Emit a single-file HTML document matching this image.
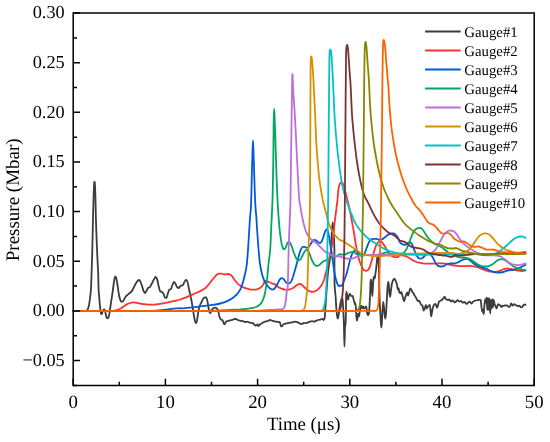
<!DOCTYPE html>
<html lang="en"><head><meta charset="utf-8"><title>Pressure vs Time</title>
<style>html,body{margin:0;padding:0;background:#fff;overflow:hidden}svg{display:block}text{text-rendering:geometricPrecision}</style>
</head><body>
<svg width="550" height="442" viewBox="0 0 550 442">
<rect x="0" y="0" width="550" height="442" fill="#fff"/>
<g fill="none" stroke-width="1.8" stroke-linejoin="round" stroke-linecap="round">
<path d="M73.3 310.9C77.4 310.9 81.4 310.9 85.5 310.9C85.9 310.9 86.4 310.7 86.8 310.5C87.3 310.3 87.7 309.3 88.2 308.2C88.5 307.5 88.8 306 89.1 304.5C89.3 303.3 89.6 301.7 89.8 300C90 298.4 90.2 296.5 90.5 294.5C90.6 293.1 90.8 292.1 90.9 290C91.1 287.2 91.3 280.3 91.5 275C91.7 269.7 91.9 264.8 92.1 258C92.4 247.8 92.7 230 93 218C93.2 210 93.4 201.9 93.6 196C93.7 192.1 93.9 188.3 94 186C94.1 184.6 94.2 183.1 94.2 182.6C94.3 182.1 94.4 181.6 94.5 181.6C94.6 181.6 94.7 182.1 94.8 182.6C94.8 183.1 94.9 184.6 95 186C95.1 188.3 95.3 191.8 95.4 196C95.6 201.3 95.7 212.2 95.9 218C96.4 235.3 96.9 246.6 97.4 258C97.7 264.1 97.9 266.8 98.2 274.2C98.3 277.9 98.5 287.7 98.6 290C98.8 292.9 98.9 293.5 99.1 295.5C99.2 297.1 99.4 299.3 99.5 300.9C99.7 302.9 99.8 304.7 100 306.4C100.2 308 100.3 310 100.5 310.9C100.7 312.3 100.9 313.6 101.1 313.8C101.3 314 101.6 314.1 101.8 314.1C102 314.1 102.3 312.5 102.5 311.8C102.8 310.9 103.1 309.6 103.5 309.5C103.8 309.4 104.1 309.3 104.4 309.3C104.6 309.3 104.8 310.2 105 310.9C105.2 311.7 105.5 313.1 105.7 314.1C106 315.2 106.2 316.8 106.5 317.3C106.8 317.9 107.2 318.4 107.5 318.4C107.8 318.4 108.1 317.9 108.5 317.3C108.7 316.8 109 315.5 109.3 314.1C109.6 312.7 109.9 310.2 110.2 308.2C110.5 306.2 110.8 303.8 111.1 301.8C111.4 299.8 111.7 298.4 112 296.4C112.3 294.4 112.6 292.2 112.9 290C113.2 287.8 113.5 285 113.8 283C114.1 281.2 114.3 279 114.6 278.2C114.9 277.3 115.2 276.4 115.5 276.4C115.7 276.4 116 277.4 116.3 278.2C116.6 279.1 116.9 281.2 117.2 283C117.5 285 117.9 287.8 118.2 290C118.5 292 118.8 294 119.1 295.5C119.4 297 119.7 298.3 120 299.1C120.4 300.1 120.7 301.2 121.1 301.4C121.5 301.6 121.9 301.8 122.3 301.8C122.7 301.8 123.1 301.1 123.5 300.5C123.8 300 124.2 299.2 124.5 298.6C125 297.8 125.4 297 125.9 296.4C126.4 295.8 126.8 295.4 127.3 295C127.7 294.6 128.2 294.5 128.6 294.1C128.7 294 128.9 293.7 129 293.6C129.7 292.9 130.3 292.7 131 292C131.7 291.3 132.3 290.1 133 289C133.7 287.9 134.3 286.2 135 285C135.7 283.8 136.3 282.3 137 281.6C137.7 280.9 138.3 280 139 280C139.5 280 139.9 280.9 140.4 281.6C140.9 282.5 141.5 284.4 142 286C142.5 287.6 143.1 290 143.6 291C144.1 291.9 144.5 293 145 293C145.5 293 145.9 291.8 146.4 291C146.9 290.1 147.5 288.4 148 288C148.7 287.5 149.3 287.5 150 287C150.5 286.6 151.1 285 151.6 284C152.3 282.7 152.9 281.1 153.6 280C154.3 278.9 154.9 277 155.6 277C156.1 277 156.5 278 157 279C157.5 280 157.9 283.1 158.4 285C158.9 287.1 159.5 290.5 160 291C160.7 291.6 161.3 291.5 162 292C162.5 292.4 163.1 293.1 163.6 294C164.1 294.8 164.5 297.4 165 297.6C165.5 297.8 165.9 298 166.4 298C166.9 298 167.5 294.5 168 293C168.5 291.7 168.9 289.9 169.4 289.6C169.9 289.2 170.5 289.4 171 289C171.5 288.7 171.9 286.1 172.4 285C172.9 283.8 173.5 282 174 282C174.5 282 175.1 283.2 175.6 284C176.1 284.7 176.5 286.6 177 287C177.7 287.6 178.3 288 179 288C179.3 288 179.7 286.7 180 286.4C180.5 286 181.1 285.8 181.6 285.6C182.1 285.4 182.5 285.3 183 285C183.5 284.7 183.9 282.7 184.4 282C184.9 281.2 185.5 280 186 280C186.3 280 186.7 280.2 187 280.4C187.3 280.6 187.7 282.6 188 284C188.5 285.9 188.9 288.8 189.4 291C189.9 293.5 190.5 295.3 191 298C191.5 300.3 191.9 303.2 192.4 306C192.9 309.2 193.5 313.2 194 316C194.5 318.5 194.9 321.9 195.4 322.4C195.7 322.7 196.1 323 196.4 323C196.7 323 197.1 319.9 197.4 318C197.8 315.7 198.2 311.9 198.6 310C199.1 307.8 199.5 306.2 200 305C200.5 303.7 201.1 303.1 201.6 302C202.1 301.1 202.5 299.6 203 299C203.5 298.4 203.9 297.8 204.4 297.6C204.9 297.4 205.5 297.2 206 297.2C206.4 297.2 206.8 298.7 207.2 300C207.6 301.3 208 305 208.4 307C208.8 309 209.2 312 209.6 312.4C209.9 312.7 210.3 313 210.6 313C210.9 313 211.3 310.6 211.6 310C212.1 309.2 212.5 308.7 213 308.4C213.7 308 214.3 307.6 215 307.6C215.7 307.6 216.3 307.9 217 308.4C217.5 308.7 217.9 310.5 218.4 312C218.8 313.3 219.2 316 219.6 317C220.1 318.2 220.5 319.4 221 319.6C221.5 319.8 221.9 319.8 222.4 320C222.8 320.2 223.2 322.3 223.6 323C223.9 323.6 224.3 324.4 224.6 324.4C225.1 324.4 225.5 321.9 226 321.6C226.7 321.2 227.3 321.2 228 321C228.7 320.8 229.3 320.6 230 320.4C230.7 320.2 231.3 320.2 232 320C232.7 319.8 233.3 319.4 234 319.2C234.7 319 235.3 318.8 236 318.8C236.5 318.8 237.1 319.8 237.6 320C238.1 320.2 238.5 320.3 239 320.4C239.7 320.6 240.3 320.7 241 320.8C241.7 320.9 242.3 321 243 321.2C243.7 321.4 244.3 322 245 322C245.7 322 246.3 321.6 247 321.6C247.7 321.6 248.3 322.2 249 322.4C249.7 322.6 250.3 322.7 251 322.8C251.7 322.9 252.3 323 253 323.2C253.5 323.4 253.9 324.5 254.4 324.8C254.9 325.2 255.5 325.6 256 325.6C256.5 325.6 256.9 324.4 257.4 324.4C257.7 324.4 258.1 326 258.4 326C258.9 326 259.5 324.8 260 324.4C260.7 323.9 261.3 323.6 262 323.2C262.7 322.8 263.3 322.3 264 322C264.7 321.7 265.3 321.6 266 321.4C266.7 321.2 267.3 321.2 268 321C268.7 320.8 269.3 320 270 320C271 320 272 320.8 273 321C274 321.2 275 321.4 276 321.6C277 321.8 278 321.8 279 322C279.3 322.1 279.7 322.2 280 322.4C280.3 322.6 280.7 326.4 281 326.4C281.5 326.4 281.9 326.2 282.4 326C282.8 325.8 283.2 324.1 283.6 324C284.4 323.7 285.2 323.8 286 323.6C287 323.4 288 323 289 322.8C290 322.6 291 322.6 292 322.4C293 322.2 294 321.6 295 321.6C296 321.6 297 322 298 322.4C298.7 322.7 299.3 323.4 300 323.6C300.7 323.8 301.3 324 302 324C302.7 324 303.3 322.8 304 322.8C304.7 322.8 305.3 323.2 306 323.2C306.7 323.2 307.3 322.7 308 322.4C308.7 322.1 309.3 321.8 310 321.6C310.7 321.4 311.3 321.2 312 321.2C312.7 321.2 313.3 321.6 314 321.6C314.7 321.6 315.3 321.1 316 320.8C316.7 320.5 317.3 320.2 318 320C318.7 319.8 319.3 319.7 320 319.6C320.5 319.5 321.1 319.3 321.6 319.2C322.3 319.1 322.9 318.8 323.6 318.8C323.6 318.8 323.6 320.2 323.6 320.2C324 320.2 324.3 319.3 324.7 318C324.9 316.9 325.2 310.4 325.5 306.4C325.9 301.7 326.2 296.7 326.5 291.8C326.9 287 327.2 281.2 327.6 277.3C327.8 274.4 328 272.1 328.3 270C329.2 262.1 330.1 261.1 331 250C331.3 246.7 331.5 235.9 331.8 232C332.1 227.6 332.4 222.4 332.7 222.4C333 222.4 333.3 227.6 333.6 232C333.9 235.9 334.1 236.6 334.4 250C334.4 252.4 334.5 280 334.5 281.6C334.9 293.3 335.2 291.2 335.6 296.2C335.9 300.4 336.1 305.8 336.4 309.3C336.7 312.2 336.9 315.4 337.2 316.5C337.4 317.7 337.6 318.7 337.9 318.7C338.1 318.7 338.4 316.5 338.6 315.1C339 313.1 339.3 310 339.6 307.8C340 305.7 340.3 303.4 340.7 302C341 300.4 341.4 298.4 341.8 298.4C342.1 298.4 342.3 298.6 342.5 299.1C342.7 299.4 342.8 302.6 343 304.9C343.2 308 343.4 312.1 343.6 316.5C343.7 319.9 343.9 323.3 344 328.2C344.1 332.7 344.3 346.5 344.4 346.5C344.6 346.5 344.8 331.3 345 328.2C345.3 324.5 345.5 325.8 345.7 320.9C345.8 319.5 345.9 310.7 346 306.4C346 302.1 346.1 295.7 346.2 294.7C346.3 292.8 346.5 291.8 346.6 291.8C346.9 291.8 347.1 295.7 347.3 296.9C347.6 298.1 347.8 299.8 348.1 299.8C348.3 299.8 348.6 297 348.8 296.2C349.1 295 349.5 293.6 349.8 293.6C350.2 293.6 350.5 295.1 350.8 295.5C351.1 295.8 351.4 296.2 351.7 296.2C352 296.2 352.4 295.9 352.7 295.9C353 295.9 353.2 298.1 353.5 299.1C353.7 300.1 353.9 300.9 354.2 301.7C354.4 302.6 354.7 304.2 354.9 304.2C355.1 304.2 355.2 303.2 355.3 303.2C355.5 303.2 355.7 305.6 355.9 307.8C356.1 309.5 356.2 314.9 356.4 316.5C356.6 318.7 356.8 320.9 356.9 320.9C357.1 320.9 357.3 319.2 357.5 318C357.7 316.8 357.9 313.6 358.1 313.6C358.4 313.6 358.7 316.5 359 316.5C359.2 316.5 359.5 313.6 359.7 312.2C360 310.7 360.2 308.8 360.4 307.8C360.7 306.8 360.9 305.6 361.2 305.6C361.5 305.6 361.8 308.5 362.2 308.5C362.5 308.5 362.9 306.4 363.2 306.4C363.5 306.4 363.8 308.5 364.1 308.5C364.4 308.5 364.8 307.9 365.1 307.5C365.5 307.1 365.9 306.4 366.3 306.4C366.5 306.4 366.7 311.1 367 312.2C367.3 313.6 367.7 315.1 368 315.1C368.3 315.1 368.6 314.5 368.9 313.6C369.1 313 369.3 309.3 369.5 306.4C369.7 302.7 369.9 297.3 370.2 291.8C370.3 288.6 370.5 281.6 370.6 280.9C370.8 280 371 279.5 371.2 279.5C371.4 279.5 371.6 286.2 371.8 288.9C372 291.6 372.2 296.2 372.4 296.2C372.6 296.2 372.8 290.4 372.9 287.5C373.1 284.5 373.3 279.9 373.5 278.7C373.7 277.6 373.9 276.5 374.1 276.5C374.3 276.5 374.5 278.7 374.7 278.7C374.9 278.7 375.1 275.7 375.3 274.4C375.5 272.7 375.8 271.8 376 270C376.3 268 376.5 264.3 376.8 262C377.1 259.7 377.3 256 377.6 256C377.9 256 378.3 258.5 378.6 262C378.9 264.8 379.1 280.1 379.4 290C379.5 292.9 379.6 296.9 379.6 299.1C379.9 305.8 380.1 309.3 380.4 313.6C380.6 317.9 380.8 323.5 381.1 325.3C381.2 326.3 381.4 327.5 381.5 327.5C381.7 327.5 381.9 321 382.1 318C382.5 312.4 382.8 302 383.2 302C383.5 302 383.8 306.1 384.1 308.5C384.4 311.4 384.8 318.7 385.1 318.7C385.3 318.7 385.6 317.3 385.8 315.8C386.1 314.3 386.3 309.6 386.5 305.6C386.8 301.6 387 294.9 387.3 291.1C387.5 287.3 387.8 281.6 388 281.6C388.2 281.6 388.5 282.6 388.7 283.8C389 285 389.2 292.5 389.5 294C389.7 295.5 389.9 296.9 390.2 296.9C390.4 296.9 390.7 292.9 390.9 291.1C391.2 288.5 391.6 285.3 391.9 283.8C392.3 282.1 392.7 280.9 393.1 280.2C393.5 279.5 393.9 278.7 394.3 278.7C394.6 278.7 394.9 279.6 395.3 280.2C395.6 280.8 396 281.4 396.3 282.4C396.6 283.2 396.9 284.7 397.2 286C397.4 287.1 397.6 289.6 397.9 289.6C398.1 289.6 398.4 288.2 398.6 288.2C398.9 288.2 399.1 292.2 399.3 292.5C399.7 293 400 293.3 400.4 293.3C400.7 293.3 400.9 291.8 401.2 291.8C401.5 291.8 401.8 293.8 402.1 294.7C402.4 295.7 402.7 296.6 403 297.6C403.3 298.8 403.7 301.3 404 301.3C404.3 301.3 404.7 299.4 405 298.4C405.4 297.2 405.8 295.7 406.2 294.7C406.5 293.9 406.9 292.5 407.2 292.5C407.5 292.5 407.8 295.5 408.1 295.5C408.4 295.5 408.8 293.6 409.1 292.5C409.5 291.3 409.9 288.5 410.3 288.5C410.6 288.5 410.9 289.1 411.3 289.6C411.6 290.1 412 291.3 412.3 291.8C412.7 292.4 413.1 292.7 413.5 293.3C413.8 293.9 414.2 294.8 414.6 295.5C415 296 415.3 296.3 415.6 296.9C416 297.5 416.3 298.5 416.7 299.1C417 299.8 417.4 301 417.8 301C418.3 301 418.8 301 419.3 301C419.7 301 420 302.8 420.4 303.5C420.8 304 421.1 304.6 421.5 304.9C421.8 305.2 422.1 305.2 422.5 305.6C422.9 306.1 423.2 310.7 423.6 310.7C424 310.7 424.4 309.5 424.8 308.5C425.1 307.7 425.5 304.9 425.8 304.9C426.2 304.9 426.5 308.5 426.8 308.5C427.2 308.5 427.6 306.8 428 306.4C428.4 305.9 428.8 305.6 429.2 305.3C429.4 305.2 429.6 304.9 429.9 304.9C430.1 304.9 430.4 309.3 430.6 311.5C430.8 313.2 431 316.5 431.2 316.5C431.5 316.5 431.8 312.9 432.1 311.5C432.4 309.8 432.8 308.1 433.1 307.1C433.4 306.1 433.8 305.3 434.1 304.9C434.5 304.4 434.9 303.9 435.3 303.9C435.6 303.9 436 304.9 436.3 305.6C436.5 306.2 436.8 307.8 437 307.8C437.3 307.8 437.6 306.5 437.9 305.6C438.2 304.6 438.6 302.5 438.9 302C439.2 301.5 439.6 301.2 439.9 301C440.3 300.8 440.7 300.7 441.1 300.5C441.5 300.3 441.9 299.9 442.3 299.5C442.7 299.1 443.1 298.6 443.6 298.1C444 297.6 444.3 296.6 444.7 296.6C445.1 296.6 445.4 298.9 445.7 299.1C446.1 299.3 446.5 299.4 446.9 299.5C447.3 299.7 447.7 300.1 448.1 300.1C448.4 300.1 448.8 299.5 449.1 299.5C449.4 299.5 449.8 300.2 450.1 300.5C450.5 300.9 450.9 301.6 451.3 301.6C451.7 301.6 452 300.5 452.4 300.5C452.8 300.5 453.1 300.8 453.5 301C453.8 301.2 454.1 302.4 454.5 302.4C454.6 302.4 454.8 302.4 455 302.4C455.5 302.4 456 301.4 456.5 301C456.8 300.7 457.2 300.1 457.6 300.1C458 300.1 458.3 300.7 458.6 301C459 301.2 459.3 301.6 459.7 301.6C460 301.6 460.4 301 460.8 301C461.2 301 461.6 301.7 462 302C462.3 302.3 462.7 302.7 463 302.7C463.3 302.7 463.7 302 464 302C464.4 302 464.8 302.2 465.2 302.4C465.6 302.7 466 303.9 466.3 303.9C466.7 303.9 467 303.7 467.4 303.5C467.7 303.3 468 302.7 468.4 302.4C468.8 302.1 469.2 301.6 469.5 301.6C469.9 301.6 470.3 302.4 470.7 302.7C471 303 471.4 303.5 471.7 303.5C472.1 303.5 472.4 302.3 472.7 302C473.1 301.7 473.5 301.5 473.9 301.3C474.4 301 474.9 300.7 475.4 300.5C475.8 300.4 476.3 300.3 476.8 300.3C477.3 300.2 477.8 300.2 478.3 300.1C478.8 300 479.2 299.8 479.7 299.8C480.1 299.8 480.4 299.9 480.7 300.1C481 300.3 481.2 305.3 481.5 307.1C481.7 308.9 482 311.5 482.2 311.5C482.4 311.5 482.7 310 482.9 310C483.2 310 483.4 314.4 483.7 314.4C483.9 314.4 484.1 308.1 484.4 305.6C484.6 303.1 484.9 299.1 485.1 299.1C485.4 299.1 485.6 302.7 485.8 302.7C486.1 302.7 486.3 297.6 486.6 297.6C486.8 297.6 487 310 487.3 310C487.5 310 487.8 297.6 488 297.6C488.3 297.6 488.5 310 488.7 310C489 310 489.2 298.4 489.5 298.4C489.7 298.4 490 313.6 490.2 313.6C490.4 313.6 490.7 299.8 490.9 299.8C491.2 299.8 491.4 308.5 491.7 308.5C491.9 308.5 492.1 299.1 492.4 299.1C492.6 299.1 492.9 307.1 493.1 307.1C493.4 307.1 493.6 299.8 493.8 299.8C494.1 299.8 494.3 303.5 494.6 304.2C494.9 305 495.1 305 495.4 305.6C495.8 306.3 496.1 308.5 496.5 308.5C496.8 308.5 497.1 306.3 497.5 305.6C497.8 305 498.1 304.2 498.3 304.2C498.7 304.2 499 304.7 499.4 304.9C499.7 305.2 500 305.3 500.4 305.6C500.8 306 501.2 307.1 501.5 307.1C501.9 307.1 502.3 305.6 502.7 305.6C503 305.6 503.4 305.9 503.7 305.9C504.1 305.9 504.4 305.3 504.7 305.3C505.1 305.3 505.5 305.6 505.9 305.6C506.3 305.6 506.7 305.3 507.1 305.3C507.4 305.3 507.8 306.1 508.1 306.4C508.4 306.6 508.8 307.1 509.1 307.1C509.5 307.1 509.9 306.3 510.3 305.6C510.5 305.2 510.8 303.5 511 303.5C511.3 303.5 511.7 304.6 512 304.9C512.3 305.2 512.6 305.6 512.9 305.6C513.2 305.6 513.6 304.2 513.9 304.2C514.2 304.2 514.6 304.3 514.9 304.5C515.3 304.6 515.7 305.2 516.1 305.3C516.5 305.5 516.9 305.5 517.3 305.6C517.6 305.8 517.9 306.4 518.3 306.4C518.6 306.4 519 305.6 519.3 305.6C519.7 305.6 520.1 306.5 520.5 306.8C520.8 307.1 521.2 307.4 521.6 307.4C522 307.4 522.3 306.8 522.6 306.4C523 306 523.3 305.1 523.7 304.9C524 304.7 524.4 304.5 524.8 304.5C525.1 304.5 525.3 304.7 525.5 304.9" stroke="#3C3C3C"/>
<path d="M73.3 310.9C86 310.9 98.8 310.9 111.5 310.9C113.1 310.9 114.8 310.5 116.4 310.2C117.3 310 118.2 309.7 119.1 309.3C120 308.9 120.9 308.3 121.8 307.7C122.7 307.1 123.6 306.5 124.5 305.9C125.4 305.3 126.4 304.6 127.3 304.1C127.7 303.9 128.2 303.7 128.6 303.5C130.1 303 131.5 302.4 133 302.4C134.7 302.4 136.4 302.8 138.1 303.1C140 303.4 142 303.9 143.9 304.1C146.3 304.4 148.8 304.7 151.2 304.7C153.6 304.7 156 304.4 158.5 304.1C160.9 303.9 163.3 303.4 165.7 302.9C168.2 302.5 170.6 301.8 173 301.2C175.4 300.6 177.8 300.2 180.3 299.5C182.2 298.9 184.2 298 186.1 297.3C188 296.5 190 295.6 191.9 294.8C193.8 294 195.8 293.1 197.7 292.2C200.2 291 202.6 290.2 205 288.4C206.3 287.4 207.7 285.6 209 284C210.3 282.4 211.7 280.6 213 279C214.1 277.6 215.3 275.8 216.4 275C217.3 274.4 218.1 273.6 219 273.6C219.9 273.6 220.7 273.6 221.6 273.6C222.4 273.6 223.2 274.4 224 274.4C224.3 274.4 224.7 274.4 225 274.4C226 274.4 227 274 228 274C229 274 230 274.5 231 275C232 275.5 233 277.7 234 279C235 280.3 236 281.9 237 283C238 284.1 239 285 240 285.6C241.3 286.5 242.7 287.1 244 287.6C245.3 288.1 246.7 288.5 248 288.8C249.3 289.1 250.7 289.6 252 289.6C253.3 289.6 254.7 289.6 256 289.6C257.3 289.6 258.7 288.8 260 288C261 287.4 262 286.3 263 285C263.5 284.3 264.1 282.5 264.6 282C265.1 281.5 265.5 281 266 281C266.7 281 267.3 281.4 268 281.6C269 282 270 282.6 271 283C272.3 283.5 273.7 283.8 275 284.4C276.3 285 277.7 286.8 279 287.5C280.3 288.2 281.7 288.7 283 289C284.3 289.3 285.7 289.8 287 289.8C288.3 289.8 289.7 289.4 291 289C292.3 288.6 293.7 287.4 295 286.5C296 285.8 297 284.7 298 284.4C298.7 284.2 299.3 284 300 284C300.7 284 301.3 284.5 302 284.9C302.7 285.3 303.3 286.4 304 287C305 287.9 306 288.8 307 289.5C308 290.2 309 291 310 291.3C311 291.6 312 291.8 313 291.8C314.3 291.8 315.7 291 317 290.2C318.3 289.4 319.7 287.9 321 286C322 284.6 323 282.9 324 280C324.2 279.3 324.5 278.1 324.7 277.1C325.3 274.9 325.8 272.7 326.4 270.5C326.9 268.4 327.5 266.3 328 264C328.5 261.6 329.1 258.9 329.6 256.4C330.2 253.8 330.7 251.5 331.3 248.7C331.9 245.6 332.5 242.7 333.1 238.2C333.6 234.2 334.2 226.7 334.7 221.8C335.3 217 335.8 213.1 336.4 208.7C336.7 205.8 337.1 203.4 337.5 200C337.8 197.1 338.1 191.5 338.4 189.5C338.7 187.4 339.1 185.9 339.4 185C339.7 184.1 340.1 183.3 340.4 183C340.7 182.7 341.1 182.5 341.4 182.5C341.7 182.5 342.1 182.7 342.4 183C342.7 183.2 343 183.8 343.3 184.4C343.9 185.6 344.4 188.1 345 190.2C345.6 192.4 346.2 195 346.8 197.5C347.4 200 348 202.4 348.6 205C349.2 207.7 349.9 210.4 350.5 213.5C351.1 216.4 351.7 220 352.3 223.3C352.7 225.7 353.2 228 353.6 230.5C353.9 232.2 354.2 234.1 354.5 236C354.9 238.8 355.4 242 355.8 244.5C356.4 247.7 356.9 250.8 357.5 253.3C358 255.8 358.5 258.1 359.1 259.8C359.6 261.6 360.2 262.8 360.7 264.2C361.3 265.5 361.8 267.1 362.4 268C362.9 268.9 363.5 269.9 364 270.2C364.7 270.6 365.5 270.9 366.2 270.9C366.9 270.9 367.6 270.3 368.4 269.6C368.9 269.1 369.5 267.7 370 266.4C370.5 265 371.1 262.9 371.6 260.9C372.2 258.9 372.7 256.3 373.3 254.4C373.8 252.4 374.4 250.5 374.9 248.9C375.5 247.3 376 245.6 376.5 244.5C377.1 243.5 377.6 242.6 378.2 242.1C378.7 241.7 379.3 241.3 379.8 241.3C380.4 241.3 380.9 241.5 381.5 241.8C382 242.1 382.5 242.8 383.1 243.5C383.6 244.1 384.2 245.3 384.7 246.2C385.3 247.1 385.8 248 386.4 248.9C386.9 249.8 387.5 250.8 388 251.6C388.7 252.7 389.5 253.9 390.2 254.6C390.9 255.3 391.6 256 392.4 256.3C393.1 256.7 393.8 257.1 394.5 257.1C395.6 257.1 396.7 257.1 397.8 257.1C398.5 257.1 399.3 255.1 400 255.1C401.3 255.1 402.5 255.4 403.8 255.7C405.1 256 406.4 256.4 407.6 257C408.9 257.6 410.2 258.8 411.5 259.5C412.7 260.3 414 260.9 415.3 261.5C416.5 262 417.8 262.4 419.1 262.7C420.4 263 421.6 263.2 422.9 263.4C424.2 263.5 425.5 263.7 426.7 263.7C428 263.7 429.3 263.7 430.5 263.7C431.8 263.7 433.1 263.7 434.4 263.7C435.6 263.7 436.9 263.4 438.2 263.4C439.5 263.4 440.7 263.4 442 263.4C443.3 263.4 444.5 263.6 445.8 263.7C447.1 263.9 448.4 264.3 449.6 264.6C450.9 264.9 452.2 265.5 453.5 265.5C454 265.5 454.5 265.5 455 265.5C456.5 265.5 457.9 266.2 459.4 266.2C460.8 266.2 462.3 266.2 463.7 266.2C465.2 266.2 466.6 265.9 468.1 265.9C469.5 265.9 471 266 472.5 266.2C473.9 266.3 475.4 266.8 476.8 267.2C478.3 267.6 479.7 268.1 481.2 268.7C482.6 269.2 484.1 270.1 485.5 270.5C487 271 488.5 271.4 489.9 271.6C491.4 271.8 492.8 272 494.3 272C495.7 272 497.2 271.6 498.6 271.3C500.1 270.9 501.5 270 503 269.5C504 269.2 504.9 268.7 505.9 268.7C506.9 268.7 507.8 268.7 508.8 268.7C510.3 268.7 511.7 269.2 513.2 269.5C514.6 269.8 516.1 270.3 517.5 270.5C519 270.7 520.5 271 521.9 271C523.1 271 524.3 270.8 525.5 270.5" stroke="#FF3030"/>
<path d="M73.3 310.9C98.9 310.9 124.4 310.9 150 310.9C150.7 310.9 151.3 310.8 152 310.8C156.7 310.5 161.3 310 166 309.6C170.7 309.2 175.3 308.2 180 308.2C180 308.2 180 308.4 180.1 308.4C183.4 308.4 186.7 307.9 190 307.6C193.3 307.3 196.7 306.8 200 306.4C203.3 306 206.7 305.6 210 305.2C212.7 304.8 215.3 304.5 218 304C220 303.6 222 303.1 224 302.4C226 301.7 228 300.7 230 299.6C231.3 298.9 232.7 298.1 234 297C235.3 295.9 236.7 294.7 238 293C239 291.7 240 290.2 241 288C241.7 286.5 242.3 284.3 243 282C243.7 279.7 244.3 277 245 274C245.5 271.6 246.1 269.7 246.6 266C247.1 262.7 247.5 256.3 248 250C248.3 245.5 248.7 239.3 249 234C249.3 228.7 249.7 222.6 250 218C250.3 213.4 250.7 212.2 251 206C251.2 201.6 251.5 188.5 251.7 180C251.9 171.5 252.2 161.7 252.4 155C252.6 149.2 252.8 140.4 253 140.4C253.2 140.4 253.4 149.6 253.6 155C253.9 162.3 254.1 172.4 254.4 180C254.7 189.5 255.1 200.5 255.4 206C255.7 211.5 256.1 213.4 256.4 218C256.7 222.6 257.1 229.1 257.4 234C257.8 239.8 258.2 245.4 258.6 250C259.1 255.4 259.5 260.8 260 264C260.7 268.5 261.3 271.5 262 274C262.7 276.5 263.3 278.5 264 280C265 282.2 266 283.7 267 285C268 286.3 269 287.8 270 288.4C270.9 289 271.7 289.6 272.6 289.6C273.4 289.6 274.2 288.8 275 288C276 287.1 277 284.8 278 283C278.7 281.8 279.3 279.9 280 279.3C280.5 278.7 281.1 278.2 281.6 278.2C282.2 278.2 282.7 278.4 283.3 278.7C283.8 279 284.4 280.2 284.9 280.9C285.5 281.6 286 282.4 286.5 282.8C287.1 283.2 287.6 283.6 288.2 283.6C288.7 283.6 289.3 283.4 289.8 283.1C290.4 282.8 290.9 281.9 291.5 280.9C292 279.9 292.5 278.2 293.1 276.5C293.6 274.9 294.2 273 294.7 271.1C295.3 269.2 295.8 267.1 296.4 265.1C296.9 263.1 297.5 261.1 298 259.1C298.5 257.1 299.1 254.8 299.6 253.1C300.2 251.4 300.7 249.6 301.3 248.7C301.8 247.8 302.4 246.8 302.9 246.8C303.5 246.8 304 246.8 304.5 246.8C305.1 246.8 305.6 247.6 306.2 247.6C306.7 247.6 307.3 247.6 307.8 247.6C308.4 247.6 308.9 246.7 309.5 246C310 245.3 310.5 244 311.1 243.3C312.1 241.9 313 239.8 314 239.8C314.7 239.8 315.5 240.1 316.2 240.4C316.9 240.7 317.6 242.2 318.4 242.5C318.9 242.8 319.5 243.1 320 243.1C320.5 243.1 321.1 242.2 321.6 241.5C322.2 240.7 322.7 238.6 323.3 237.1C323.8 235.5 324.4 233.3 324.9 232.2C325.5 231 326 229.5 326.5 229.5C326.9 229.5 327.3 230 327.6 230.5C328 231.1 328.4 233.2 328.7 234.9C329.1 236.7 329.5 239.3 329.8 241.5C330.2 243.6 330.5 245.8 330.9 248C331.3 250.4 331.7 252.5 332.1 255.3C332.5 257.7 332.9 261.3 333.2 264C333.7 267.2 334.1 270.2 334.5 272.7C335 275.2 335.4 277.6 335.9 279.3C336.3 281.1 336.8 282.6 337.3 283.6C337.8 284.8 338.4 286.4 338.9 286.4C339.3 286.4 339.6 285.5 340 285.5C340.5 285.5 341.1 285.8 341.6 285.8C342.2 285.8 342.7 283.9 343.3 282.7C343.8 281.5 344.4 279.8 344.9 278.4C345.5 276.9 346 275.7 346.5 274C347.1 272.3 347.6 269.6 348.2 267.5C348.7 265.3 349.3 262.9 349.8 260.9C350.4 258.9 350.9 256.8 351.5 255.5C352 254.1 352.5 252.9 353.1 252.2C353.6 251.5 354.2 250.5 354.7 250.5C355.3 250.5 355.8 250.7 356.4 250.9C356.9 251.1 357.5 252.1 358 252.7C358.5 253.3 359.1 254.2 359.6 254.6C360.4 255.1 361.1 255.7 361.8 255.7C362.4 255.7 362.9 255.5 363.5 255.2C364 255 364.5 253.4 365.1 252.2C365.6 251 366.2 249.3 366.7 247.8C367.3 246.4 367.8 244.6 368.4 243.5C368.9 242.3 369.5 241.3 370 240.7C370.5 240.1 371.1 239.5 371.6 239.3C372.4 239.1 373.1 238.9 373.8 238.9C374.5 238.9 375.3 238.9 376 238.9C376.7 238.9 377.5 239.1 378.2 239.3C378.9 239.5 379.6 240 380.4 240C381.1 240 381.8 239.5 382.5 239.1C383.3 238.7 384 238 384.7 237.5C385.5 236.9 386.2 236.1 386.9 235.6C387.6 235.1 388.4 234.5 389.1 234.2C389.8 233.9 390.5 233.4 391.3 233.4C392 233.4 392.7 233.4 393.5 233.4C394.2 233.4 394.9 234.1 395.6 234.7C396.4 235.3 397.1 236.3 397.8 237.5C398.5 238.6 399.3 241.5 400 242.4C400.8 243.3 401.7 244 402.5 244.3C403.4 244.6 404.2 244.9 405.1 244.9C405.9 244.9 406.8 243.5 407.6 243C408.3 242.6 408.9 242.1 409.5 242.1C410.2 242.1 410.8 242.9 411.5 243.6C412.1 244.4 412.7 246 413.4 247.5C414 248.9 414.6 251.1 415.3 252.5C415.9 254 416.5 255.5 417.2 256.4C417.8 257.2 418.5 258.1 419.1 258.3C419.7 258.5 420.4 258.7 421 258.7C421.6 258.7 422.3 258.1 422.9 257.6C423.5 257.2 424.2 256.2 424.8 255.7C425.5 255.2 426.1 254.7 426.7 254.5C427.4 254.2 428 253.8 428.6 253.8C429.3 253.8 429.9 254.1 430.5 254.5C431.2 254.8 431.8 256 432.5 257C433.1 258 433.7 259.7 434.4 260.8C435 262 435.6 263.2 436.3 264C436.9 264.8 437.5 265.6 438.2 265.9C438.8 266.2 439.5 266.5 440.1 266.5C440.9 266.5 441.8 266.4 442.6 266.3C443.5 266.2 444.3 265.7 445.2 265.3C446 264.9 446.9 264.3 447.7 264C448.6 263.7 449.4 263.4 450.3 263.4C451.1 263.4 452 263.4 452.8 263.4C453.5 263.4 454.3 263.3 455 263.3C456 263.2 456.9 262.9 457.9 262.5C458.9 262.2 459.8 261.3 460.8 260.8C461.8 260.3 462.8 259.6 463.7 259.3C464.7 259.1 465.7 258.9 466.6 258.9C467.6 258.9 468.6 259.4 469.5 259.9C470.5 260.4 471.5 261.8 472.5 262.5C473.4 263.3 474.4 264.1 475.4 264.7C476.3 265.3 477.3 265.8 478.3 266.2C479.2 266.6 480.2 266.9 481.2 267.2C482.2 267.5 483.1 267.8 484.1 268.1C485.1 268.4 486 268.7 487 269.1C488 269.5 488.9 270.1 489.9 270.5C490.9 270.9 491.8 271.3 492.8 271.6C493.8 271.9 494.8 272.3 495.7 272.4C496.7 272.6 497.7 272.7 498.6 272.7C499.6 272.7 500.6 272.6 501.5 272.4C502.5 272.3 503.5 271.9 504.5 271.6C505.4 271.3 506.4 270.7 507.4 270.5C508.3 270.3 509.3 270.2 510.3 270.1C511.2 270 512.2 270 513.2 269.8C514.2 269.7 515.1 269.4 516.1 269.1C517.1 268.8 518 268.5 519 268.1C520 267.7 520.9 267.1 521.9 266.6C522.6 266.2 523.4 265.8 524.1 265.5C524.6 265.2 525.1 265 525.5 264.7" stroke="#005ADC"/>
<path d="M73.3 310.9C117.2 310.9 161.1 310.9 205 310.9C210 310.9 215 310.6 220 310.4C223.3 310.3 226.7 310.2 230 310C233.3 309.8 236.7 309.6 240 309.4C243.3 309.1 246.7 308.9 250 308.4C252 308.1 254 307.7 256 307C257.3 306.5 258.7 305.6 260 304.4C260.8 303.7 261.6 302.5 262.4 301C262.9 300 263.5 298.7 264 297C264.5 295.5 264.9 293.5 265.4 291C265.7 289.2 266.1 286.9 266.4 284.4C266.7 281.9 267.1 279.2 267.4 276C267.7 272.8 268.1 268.3 268.4 265C269 258.7 269.7 256.3 270.3 248C270.7 243.2 271 232 271.4 224C271.8 216 272.1 211.4 272.5 200C272.8 191.7 273 178.5 273.3 160C273.4 150.8 273.6 125 273.7 120C273.9 113.8 274 108.9 274.2 108.9C274.4 108.9 274.5 115.9 274.7 120C274.9 125.8 275.2 133 275.4 140C275.7 150 276.1 162.5 276.4 172C276.8 182.4 277.1 192.6 277.5 200C277.7 203.4 277.8 206.1 278 208.7C278.3 212.8 278.5 216.4 278.8 219.6C279.1 223.3 279.3 226.7 279.6 229.5C280 232.9 280.4 235.7 280.7 238.2C281.1 240.7 281.5 243.3 281.8 244.7C282.3 246.5 282.7 246.8 283.1 248.5C283.2 248.7 283.2 249.3 283.3 249.3C283.8 249.3 284.4 249 284.9 248.7C285.5 248.4 286 246.7 286.5 245.5C286.9 244.6 287.3 243.2 287.6 242.7C288 242.2 288.4 241.6 288.7 241.6C289.3 241.6 289.8 242.5 290.4 243.3C290.9 244 291.5 245.7 292 247.1C292.5 248.5 293.1 250.5 293.6 252C294.2 253.5 294.7 255.2 295.3 256.4C295.8 257.6 296.4 258.9 296.9 259.4C297.5 260 298 260.5 298.5 260.5C299.1 260.5 299.6 260.1 300.2 259.6C300.7 259.2 301.3 257.9 301.8 256.9C302.4 255.9 302.9 254.6 303.5 253.6C304 252.6 304.5 251.3 305.1 250.9C305.6 250.5 306.2 250 306.7 250C307.2 250 307.7 250.5 308.1 250.9C308.6 251.3 309 252.6 309.5 253.6C310 254.9 310.5 256.6 311.1 258C311.6 259.4 312.2 260.8 312.7 261.8C313.3 262.9 313.8 264 314.4 264.5C315.1 265.2 315.8 266 316.5 266C317.3 266 318 265.6 318.7 265.3C319.5 265 320.2 264.1 320.9 263.5C321.6 262.8 322.4 262.1 323.1 261.6C323.8 261.1 324.5 260.8 325.3 260.5C326.2 260.2 327.1 260 328 259.6C328.9 259.3 329.8 258.9 330.7 258.5C331.6 258.2 332.5 257.8 333.5 257.5C334.5 257.1 335.6 256.9 336.7 256.4C337.8 255.9 338.9 254.1 340 254.1C340.7 254.1 341.5 254.6 342.2 254.6C342.9 254.6 343.6 254.6 344.4 254.6C345.1 254.6 345.8 254.1 346.5 253.8C347.3 253.5 348 253 348.7 252.7C349.5 252.5 350.2 252.2 350.9 252.2C351.6 252.2 352.4 252.2 353.1 252.2C353.8 252.2 354.5 252.9 355.3 253.3C356 253.7 356.7 254.3 357.5 254.6C358.2 254.9 358.9 255.1 359.6 255.2C360.4 255.3 361.1 255.5 361.8 255.5C362.9 255.5 364 255.3 365.1 255.2C367.6 255.1 370.2 255.1 372.7 255C374.5 254.9 376.4 254.8 378.2 254.6C379.6 254.4 381.1 253.9 382.5 253.5C383.3 253.3 384 252.9 384.7 252.7C385.5 252.6 386.2 252.4 386.9 252.4C388.5 252.4 390.1 253.7 391.6 254C393.8 254.4 396 254.7 398.2 254.7C399.7 254.7 401.3 254 402.8 253.3C403.8 252.8 404.8 251.7 405.7 250.4C406.5 249.4 407.2 247.7 407.9 246C408.7 244.3 409.4 242.1 410.1 240.2C410.8 238.2 411.6 235.9 412.3 234.4C413 232.9 413.7 231.6 414.5 230.7C415.2 229.8 415.9 228.9 416.7 228.5C417.4 228.2 418.1 227.8 418.8 227.8C419.5 227.8 420.2 227.9 420.9 228.1C421.6 228.3 422.2 229.2 422.9 230C423.6 230.8 424.3 231.9 424.9 232.9C425.6 233.9 426.3 235.2 427 236.3C427.5 237.1 428.1 237.9 428.6 238.5C429.5 239.5 430.3 240.3 431.2 241.1C432.2 242 433.3 243 434.4 243.6C435.6 244.4 436.9 244.9 438.2 245.5C439.5 246.2 440.7 246.7 442 247.5C443.1 248.1 444.1 249.2 445.2 250C446.2 250.8 447.3 251.8 448.4 252.5C449.6 253.4 450.9 254.2 452.2 254.8C453.1 255.3 454.1 255.6 455 256C456 256.4 456.9 256.8 457.9 257C458.9 257.2 459.8 257.5 460.8 257.5C461.8 257.5 462.8 257.5 463.7 257.5C464.7 257.5 465.7 257.7 466.6 257.9C467.6 258.1 468.6 258.5 469.5 258.9C470.5 259.4 471.5 260.1 472.5 260.8C473.4 261.5 474.4 262.2 475.4 262.8C476.3 263.5 477.3 264.2 478.3 264.7C479.2 265.2 480.2 265.6 481.2 265.9C482.2 266.1 483.1 266.5 484.1 266.5C485.1 266.5 486 266.5 487 266.5C488 266.5 488.9 266.1 489.9 265.7C490.8 265.4 491.7 264.9 492.5 264.3C493.4 263.7 494.2 262.9 495 262.3C495.7 261.7 496.5 260.9 497.2 260.5C497.9 260.1 498.6 259.6 499.4 259.5C500.2 259.3 501 259.2 501.8 259.2C502.7 259.2 503.6 259.6 504.5 259.9C505.4 260.3 506.4 261.1 507.4 261.8C508.3 262.5 509.3 263.3 510.3 264C511.2 264.7 512.2 265.6 513.2 266.2C514.2 266.8 515.1 267.2 516.1 267.6C517.1 268 518 268.3 519 268.7C520 269 520.9 269.3 521.9 269.5C523.1 269.8 524.3 270 525.5 270.1" stroke="#00A85F"/>
<path d="M73.3 310.9C132.2 310.9 191.1 310.9 250 310.9C254.3 310.9 258.7 310.6 263 310.4C266 310.3 269 310 272 309.8C274.3 309.7 276.7 309.6 279 309.5C280 309.5 281 309.5 282 309.4C282.7 309.4 283.3 308.8 284 308C284.5 307.4 285.1 304.8 285.6 302C286.1 299.5 286.5 292.1 287 290C287.2 289.1 287.4 289.1 287.6 288C288 285.6 288.5 253 288.9 240C289.4 224 290 222.4 290.5 200C290.7 193 290.8 172.5 291 160C291.2 145 291.4 130.8 291.6 118C291.7 111.6 291.8 106.9 291.9 100C292 95.4 292 88.4 292.1 84C292.2 80.7 292.2 76.2 292.2 75.5C292.3 74.5 292.4 73.9 292.4 73.9C292.5 73.9 292.6 74.7 292.6 75.5C292.8 76.7 292.8 81.8 292.9 84C293.3 91.8 293.6 96.2 294 102C294.3 107.5 294.7 112.1 295 118C295.7 129.7 296.3 144.7 297 158C297.3 164.7 297.7 171.9 298 178C298.4 186 298.9 196.1 299.3 200C299.7 203.1 300 204.4 300.4 206.5C300.7 208.8 301.1 211.1 301.5 213.1C301.9 215.5 302.3 217.6 302.8 219.6C303.2 221.8 303.7 223.9 304.2 225.6C304.7 227.7 305.3 229.7 305.8 231.1C306.5 232.9 307.3 234.3 308 235.5C308.9 236.9 309.8 238.3 310.7 239.2C311.4 239.8 312.1 240.1 312.7 240.5C313.8 241.3 314.9 242 316 242.9C317.1 243.8 318.2 244.9 319.3 246C320.4 247.1 321.5 248.3 322.5 249.3C323.6 250.3 324.7 251.2 325.8 252C326.9 252.8 328 253.4 329.1 254C330.2 254.5 331.3 254.9 332.4 255.3C333.5 255.6 334.5 256 335.6 256.1C337.1 256.3 338.5 256.3 340 256.5C341.1 256.7 342.2 257.3 343.3 257.6C344.4 258 345.5 258.3 346.5 258.5C347.6 258.7 348.7 258.9 349.8 258.9C350.5 258.9 351.3 258.8 352 258.7C352.7 258.6 353.5 258.2 354.2 257.9C354.9 257.5 355.6 257.1 356.4 256.8C357.1 256.5 357.8 256.2 358.5 256C359.3 255.8 360 255.8 360.7 255.7C361.8 255.5 362.9 255.3 364 255.2C365.5 255.1 366.9 254.9 368.4 254.9C369.8 254.9 371.3 254.9 372.7 254.9C374.2 254.9 375.6 254.7 377.1 254.7C379.3 254.6 381.5 254.6 383.6 254.6C385.5 254.5 387.3 254.4 389.1 254.4C390.9 254.4 392.7 254.4 394.5 254.4C397 254.4 399.4 254.7 401.8 254.7C406.7 254.7 411.5 254.7 416.4 254.7C419.3 254.7 422.2 254.7 425.1 254.6C426.4 254.5 427.7 254.4 429 254.2C429.7 254.1 430.3 253.7 431 253.4C431.7 253 432.5 252.4 433.2 251.8C434.1 251 435 250.2 435.9 249.1C436.8 248 437.7 246.1 438.6 244.5C439.5 242.8 440.5 240.8 441.4 239.1C442.3 237.5 443.2 235.6 444.1 234.5C445 233.4 445.9 232.4 446.8 231.8C447.5 231.3 448.3 230.8 449 230.7C449.6 230.6 450.3 230.5 450.9 230.5C451.5 230.5 452 230.6 452.6 230.8C453.1 230.9 453.6 231.3 454.1 231.6C454.6 231.9 455.1 232.5 455.6 233C456.1 233.6 456.7 234.2 457.2 234.9C457.9 235.9 458.6 237.5 459.4 238.5C460.3 239.9 461.3 241.1 462.3 242.2C463.2 243.3 464.2 244.3 465.2 245.1C466.2 245.9 467.1 246.6 468.1 247.3C469.1 247.9 470 248.6 471 249.2C472 249.8 472.9 250.3 473.9 250.9C474.9 251.5 475.8 252.2 476.8 252.7C477.8 253.1 478.8 253.4 479.7 253.8C480.7 254.2 481.7 254.9 482.6 255C484.1 255.2 485.5 255.3 487 255.3C488.9 255.3 490.9 255.3 492.8 255.3C494.3 255.3 495.7 255.4 497.2 255.6C498.2 255.7 499.1 256.1 500.1 256.4C501.1 256.8 502 257.3 503 257.9C503.7 258.3 504.5 259.1 505.2 259.6C505.9 260.2 506.6 260.9 507.4 261.4C508.1 261.9 508.8 262.4 509.5 262.8C510.3 263.3 511 263.7 511.7 264C512.7 264.3 513.7 264.5 514.6 264.7C515.6 264.9 516.6 265.2 517.5 265.2C518.5 265.2 519.5 264.9 520.5 264.7C521.4 264.5 522.4 264.3 523.4 264C524.1 263.8 524.8 263.5 525.5 263.3" stroke="#BE6EDC"/>
<path d="M73.3 310.9C148.9 310.9 224.4 310.9 300 310.9C301 310.9 302 310.7 303 310.4C303.7 310.2 304.3 309 305 307C305.3 306 305.7 302.6 306 300C306.4 296.6 306.9 294.3 307.3 288C307.7 282.2 308.1 261.1 308.5 248C309 231.7 309.5 232.2 310 200C310.1 191.4 310.3 150.5 310.4 118C310.4 105.8 310.5 82.3 310.6 75.5C310.6 68.7 310.6 63.8 310.7 62C310.8 59.6 310.8 58.1 310.9 57.6C311 56.9 311.1 56.4 311.2 56.4C311.3 56.4 311.4 56.8 311.6 57.2C311.7 57.6 311.8 58.6 311.9 59.5C312.1 60.8 312.2 62.2 312.4 64C312.7 66.9 312.9 71.1 313.2 75.5C313.7 83.8 314.2 95.9 314.7 106C314.9 110 315.1 113.3 315.3 118C315.5 123.5 315.8 133.4 316 138C316.5 147.2 316.9 152.1 317.4 158C318 165.5 318.6 173 319.2 178C319.9 183.9 320.6 187.8 321.3 192C321.8 194.9 322.3 197.8 322.7 200C323.3 202.6 323.8 204.4 324.4 206.5C324.9 208.7 325.5 210.9 326 213.1C326.5 215.3 327.1 217.8 327.6 219.6C328.4 222.1 329.1 224.4 329.8 226.2C330.7 228.4 331.6 230.2 332.5 231.6C333.6 233.4 334.7 234.7 335.8 236C337.1 237.5 338.4 239.1 339.6 239.8C340.8 240.5 342.1 240.7 343.3 241.3C344.4 241.8 345.5 242.7 346.5 243.5C347.6 244.2 348.7 244.9 349.8 245.6C350.9 246.4 352 247.1 353.1 247.8C354.2 248.6 355.3 249.5 356.4 250.2C357.5 250.9 358.5 251.6 359.6 252.2C360.7 252.8 361.8 253.4 362.9 253.8C364 254.3 365.1 254.7 366.2 254.9C367.6 255.2 369.1 255.5 370.5 255.7C372 255.8 373.5 256 374.9 256C376.4 256 377.8 256 379.3 256C380.7 256 382.2 255.9 383.6 255.8C385.5 255.7 387.3 255.5 389.1 255.5C390.9 255.4 392.7 255.3 394.5 255.2C397 255.1 399.4 254.2 401.8 254C404.2 253.8 406.7 253.8 409.1 253.7C413.9 253.5 418.8 253.4 423.6 253.3C428.5 253.2 433.3 253 438.2 253C443 253 447.9 253 452.7 253C454.5 253 456.2 254 458 254C459 254 460 253.6 461 253.4C462 253.1 463.1 252.8 464.1 252.4C465 252.1 465.9 251.8 466.8 251.3C467.7 250.8 468.6 250.1 469.5 249.2C470.4 248.3 471.4 246.8 472.3 245.5C473.2 244.2 474.1 242.8 475 241.5C475.9 240.2 476.8 238.8 477.7 237.8C478.6 236.7 479.6 235.7 480.5 235.1C481.4 234.5 482.3 233.9 483.2 233.7C484.1 233.5 485 233.3 485.9 233.3C486.8 233.3 487.7 233.8 488.6 234.2C489.5 234.6 490.5 235.6 491.4 236.5C492.3 237.4 493.2 238.6 494.1 239.6C495 240.6 495.9 241.8 496.8 242.8C497.7 243.8 498.6 244.7 499.5 245.5C500.4 246.3 501.4 247 502.3 247.6C503.2 248.2 504.1 248.7 505 249.2C505.9 249.7 506.8 250.1 507.7 250.4C508.9 250.8 510.2 251.2 511.4 251.5C512.6 251.8 513.8 252.2 515 252.4C516.7 252.7 518.3 252.8 520 253C521.8 253.2 523.7 253.3 525.5 253.4" stroke="#D79100"/>
<path d="M73.3 310.9C155.2 310.9 237.1 310.9 319 310.9C320.1 310.9 321.3 310.7 322.4 310.4C322.9 310.2 323.5 308.6 324 307C324.5 305.4 325.1 302.8 325.6 298C325.9 295 326.3 287.3 326.6 280C326.8 275.6 327 272.4 327.2 264C327.3 258.4 327.5 238.5 327.6 230C327.8 217.2 328 214.6 328.2 200C328.4 185.4 328.6 139.2 328.8 118C328.9 107.4 329 103.6 329.1 91C329.1 86.8 329.2 76.5 329.2 73.2C329.3 65 329.4 60.8 329.4 57.9C329.5 55 329.6 52.7 329.7 51.8C329.8 50.8 329.9 50.2 330 49.9C330.1 49.6 330.2 49.3 330.3 49.3C330.4 49.3 330.5 49.6 330.6 49.9C330.8 50.2 330.9 51.1 331 51.8C331.1 52.6 331.3 53.4 331.4 54.6C331.6 56.1 331.7 59.1 331.9 61.7C332.1 64.3 332.2 67.6 332.4 70.6C332.6 73.6 332.7 76.2 332.9 79.5C333.1 82.8 333.2 87.2 333.4 91C333.5 94 333.7 97.1 333.8 100C334 105.1 334.3 110.5 334.5 114.5C334.8 120.3 335.2 124.9 335.5 129.1C335.9 134.6 336.4 139.1 336.8 143.6C337.2 148.1 337.7 152.6 338.1 156.4C338.6 160.7 339.1 164.4 339.6 168C340.1 171.9 340.7 175.8 341.2 179C341.9 183.2 342.6 187.1 343.3 190C344.2 193.6 345 195.9 345.9 198.7C346.5 200.6 347.1 202.5 347.7 204.2C348.5 206.4 349.2 208.5 350 210.5C350.8 212.5 351.5 214.1 352.3 216C353 217.8 353.8 220 354.5 221.5C355.4 223.4 356.4 224.9 357.3 226.3C358.4 227.9 359.4 229.3 360.5 230.6C362.1 232.5 363.7 234.3 365.3 235.8C366.3 236.8 367.3 237.8 368.4 238.5C369.5 239.4 370.5 240 371.6 240.7C372.7 241.5 373.8 242.2 374.9 242.9C376 243.6 377.1 244.4 378.2 245.1C379.3 245.8 380.4 246.6 381.5 247.3C382.5 247.9 383.6 248.6 384.7 249.1C385.8 249.7 386.9 250.1 388 250.5C389.1 251 390.2 251.3 391.3 251.6C392.4 252 393.5 252.3 394.5 252.5C395.6 252.7 396.7 252.9 397.8 253.1C399.6 253.3 401.5 253.5 403.3 253.7C405.2 253.9 407.2 254.2 409.1 254.3C411.5 254.4 413.9 254.5 416.4 254.6C418.8 254.6 421.2 254.7 423.6 254.7C428.5 254.7 433.3 254.7 438.2 254.7C443 254.7 447.9 254.6 452.7 254.6C458.3 254.5 463.9 254.2 469.5 254.2C474.3 254.2 479.2 254.2 484 254.2C486.7 254.2 489.3 254.1 492 254C493.3 253.9 494.7 253.7 496 253.3C496.8 253.1 497.7 252.5 498.5 252C499.2 251.6 499.8 251 500.5 250.5C501.7 249.6 502.9 248.8 504.1 247.8C505.6 246.6 507.1 245.1 508.6 243.7C510.1 242.3 511.7 240.7 513.2 239.6C514.4 238.7 515.6 237.9 516.8 237.4C517.9 237 518.9 236.5 520 236.5C521.1 236.5 522.1 236.6 523.2 236.7C524 236.8 524.7 237.4 525.5 237.9" stroke="#00C3C8"/>
<path d="M73.3 310.9C161.4 310.9 249.4 310.9 337.5 310.9C338.2 310.9 338.8 310.6 339.5 310.2C339.8 310 340.1 309.4 340.4 308.7C340.7 307.9 341.1 306.3 341.4 304.4C341.6 303 341.9 300.7 342.1 298.5C342.3 296.3 342.6 294.4 342.8 291.3C342.9 289.5 343.1 286.7 343.2 284C343.4 279.9 343.6 276.4 343.8 270C344 263.6 344.2 252.8 344.4 240C344.5 231.5 344.7 219.3 344.8 206C345 182.7 345.3 148.6 345.5 118C345.6 109.3 345.6 98.2 345.7 91C345.8 83.8 345.8 79.3 345.9 73.2C346 67.1 346 56.3 346.1 54.1C346.2 50.3 346.3 48.9 346.4 47.7C346.6 46.7 346.6 45.9 346.8 45.6C346.9 45.2 347 44.9 347.1 44.9C347.2 44.9 347.3 45.3 347.4 45.6C347.6 45.9 347.6 46.6 347.8 47.2C347.9 47.9 348 48.7 348.1 49.8C348.3 51.4 348.4 54.2 348.6 56.6C348.8 59.4 349 62.5 349.2 65.5C349.4 68.5 349.6 71.7 349.8 74.5C350 77.7 350.3 79.8 350.5 83.4C350.6 85.5 350.8 88.3 350.9 91C351 93.7 351.2 97.1 351.3 100C351.5 105.1 351.8 110.9 352 114.5C352.4 121.2 352.9 125.4 353.3 130C353.9 136 354.4 141.1 355 146C355.7 151.8 356.3 157.5 357 162C357.8 167.4 358.6 171.9 359.4 176C360.3 180.5 361.1 184.8 362 188C363 191.7 364 194.8 365 197C365.9 199 366.8 200.1 367.7 201.8C368.6 203.6 369.6 205.9 370.5 207.8C371.4 209.7 372.3 211.6 373.2 213.3C374.1 215 375 216.8 375.9 218.3C376.8 219.8 377.7 221.1 378.6 222.4C379.5 223.7 380.5 225 381.4 226C382.1 226.8 382.9 227.4 383.6 228.2C384.4 228.9 385.1 229.7 385.8 230.4C386.5 231.1 387.3 231.8 388 232.3C388.7 232.9 389.5 233.3 390.2 233.6C390.9 234 391.6 234.2 392.4 234.5C393.1 234.9 393.8 235.3 394.5 235.8C395.3 236.3 396 236.8 396.7 237.5C397.5 238.1 398.2 239 398.9 239.6C399.3 239.9 399.6 240.3 400 240.5C400.8 240.8 401.7 240.8 402.5 241.1C403.4 241.4 404.2 241.6 405.1 242.1C405.9 242.6 406.8 243.6 407.6 244.3C408.5 244.9 409.3 245.7 410.2 246.2C411 246.7 411.9 247.3 412.7 247.5C413.6 247.6 414.4 247.6 415.3 247.7C416.1 247.8 417 248 417.8 248.1C418.7 248.2 419.5 248.3 420.4 248.5C421.2 248.7 422.1 249 422.9 249.4C423.8 249.7 424.6 250.5 425.5 251C426.3 251.5 427.2 252.1 428 252.5C428.8 253 429.7 253.4 430.5 253.6C431.4 253.7 432.2 253.7 433.1 253.8C433.9 253.9 434.8 254 435.6 254.2C436.5 254.4 437.3 254.7 438.2 254.8C439 255 439.9 255 440.7 255.1C441.6 255.2 442.4 255.4 443.3 255.5C444.1 255.6 445 255.6 445.8 255.7C446.7 255.8 447.5 256.2 448.4 256.4C449.2 256.6 450.1 257 450.9 257C451.8 257 452.6 256.7 453.5 256.4C454 256.2 454.5 255 455 255C456.5 255 457.9 255.6 459.4 255.6C460.8 255.6 462.3 255.4 463.7 255.3C465.7 255.1 467.6 254.7 469.5 254.5C471.5 254.4 473.4 254.1 475.4 254.1C477.3 254.1 479.2 254.5 481.2 254.5C483.1 254.5 485.1 254.5 487 254.5C488.9 254.5 490.9 254.3 492.8 254.1C494.8 253.9 496.7 253.5 498.6 253.5C501.1 253.5 503.5 253.5 505.9 253.5C508.3 253.5 510.8 253.4 513.2 253.2C515.1 253.1 517.1 252.8 519 252.7C521.2 252.4 523.4 252.3 525.5 252.1" stroke="#7D3232"/>
<path d="M73.3 310.9C167 310.9 260.8 310.9 354.5 310.9C355.3 310.9 356.2 310.6 357 310.2C357.5 310 358.1 309.5 358.6 308.7C359 308.1 359.4 307 359.8 305.1C360 304 360.3 301.2 360.5 298.5C360.7 296.6 360.8 294 361 291.3C361.1 289.1 361.3 287.2 361.4 284C361.5 280.8 361.7 275.8 361.8 270C362 262.7 362.1 249 362.3 240C362.5 227.4 362.8 220.9 363 206C363.3 186.8 363.6 153.2 363.9 118C364 110.2 364 98.2 364.1 91C364.2 83.8 364.2 78.2 364.3 73.2C364.4 65.7 364.5 57.8 364.6 54.1C364.7 49.8 364.8 46.8 364.9 45.2C365 44.1 365.1 43.1 365.2 42.8C365.3 42.4 365.4 42 365.6 42C365.7 42 365.8 42.4 365.9 42.8C366 43.1 366.1 43.9 366.2 44.6C366.3 45.3 366.4 46.2 366.5 47.2C366.7 48.9 366.8 51.7 367 54.1C367.2 57 367.4 60.3 367.6 63C367.8 66.2 368.1 68.7 368.3 71.9C368.5 74.6 368.7 77.3 368.9 80.8C369.1 83.7 369.2 87.4 369.4 91C369.5 93.9 369.7 97.4 369.8 100C370.1 105.8 370.4 110.7 370.7 114.5C371.2 120.9 371.7 125.4 372.2 130C372.8 135.6 373.4 140.8 374 145C374.7 150.1 375.5 154 376.2 158C377 162.3 377.8 166.5 378.6 170C379.5 173.9 380.4 177.5 381.3 180.5C382.4 184.1 383.4 187.3 384.5 190C385.8 193.4 387.2 196.3 388.5 199C389.8 201.7 391.2 204.2 392.5 206.3C393.6 208.1 394.7 209.4 395.8 211C396.9 212.6 398 214.4 399.1 216C399.9 217.1 400.6 218.3 401.4 219.4C402.3 220.7 403.2 221.9 404.1 223C405.3 224.4 406.5 225.6 407.7 226.7C408.9 227.8 410.2 228.6 411.4 229.6C412.6 230.5 413.8 231.5 415 232.4C416.2 233.3 417.4 234.2 418.6 235C419.8 235.8 421 236.5 422.3 237.3C423.3 237.9 424.4 238.5 425.5 239.2C426.5 239.8 427.6 240.6 428.6 241.1C429.7 241.6 430.8 241.9 431.8 242.4C432.9 242.8 433.9 243.4 435 243.6C436.1 243.9 437.1 244 438.2 244.3C439.2 244.5 440.3 244.8 441.4 245.2C442.4 245.5 443.5 246.3 444.5 246.8C445.6 247.3 446.7 247.9 447.7 248.1C448.8 248.3 449.8 248.5 450.9 248.5C452 248.5 453 248.5 454.1 248.5C454.4 248.5 454.7 248 455 248C456 248 456.9 248.4 457.9 248.7C458.9 249.1 459.8 249.8 460.8 250.2C461.8 250.6 462.8 251 463.7 251.2C464.7 251.4 465.7 251.5 466.6 251.6C467.6 251.8 468.6 252.1 469.5 252.4C471 252.7 472.5 253.3 473.9 253.5C475.4 253.8 476.8 254 478.3 254.1C480.2 254.3 482.2 254.4 484.1 254.4C486.5 254.4 488.9 254.1 491.4 254.1C493.8 254.1 496.2 254.1 498.6 254.1C501.1 254.1 503.5 254.1 505.9 254.1C508.3 254.1 510.8 254.1 513.2 254.1C517.3 254.1 521.4 254 525.5 253.8" stroke="#878700"/>
<path d="M73.3 310.9C173.5 310.9 273.8 310.9 374 310.9C374.7 310.9 375.3 310.9 376 310.8C376.3 310.8 376.7 310.4 377 310C377.5 309.4 377.9 307.7 378.4 304C378.6 302.4 378.8 295.5 379 290C379.2 284.5 379.4 277 379.6 270C379.9 260.6 380.1 252.2 380.4 240C380.6 230.9 380.8 219 381 206C381.4 182.1 381.7 157.1 382.1 118C382.2 110.9 382.2 98.2 382.3 91C382.4 83.8 382.4 78.2 382.5 73.2C382.6 65.7 382.7 58.1 382.8 54.1C382.9 49.4 383 45.7 383.1 43.9C383.2 42.4 383.3 41.3 383.4 40.8C383.6 40.3 383.7 39.8 383.8 39.8C383.9 39.8 384 40.2 384.1 40.6C384.3 41 384.4 41.7 384.5 42.4C384.6 43.1 384.7 44 384.9 45C385.1 46.8 385.3 48.9 385.5 51.5C385.7 53.9 385.9 57.9 386.1 60.5C386.4 63.9 386.6 66.2 386.9 69.4C387.1 72.2 387.4 75.8 387.6 78.3C387.9 81.2 388.1 82.5 388.4 85.9C388.5 87.6 388.7 90.5 388.8 93C388.9 95.5 389.1 98.7 389.2 101C389.4 104.9 389.7 108.1 389.9 111C390.2 115.2 390.6 118.8 390.9 122C391.3 126.2 391.8 129.8 392.2 133C392.8 137.4 393.4 141 394 144.5C394.7 148.3 395.3 151.9 396 155C396.9 159.2 397.8 162.7 398.7 166C400 170.6 401.2 174.8 402.5 178.5C404 182.8 405.5 186.6 407 190C408.3 193 409.7 195.5 411 198C412.6 200.9 414.1 204 415.7 206C416.6 207.2 417.6 207.8 418.5 208.9C419.5 210 420.5 211.2 421.5 212.5C422.4 213.9 423.4 215.5 424.4 216.9C425.3 218.4 426.3 220.2 427.3 221.3C428.2 222.3 429.2 223.3 430.2 223.7C431.2 224.2 432.1 224.2 433.1 224.6C434.1 225 435 226.1 436 227.1C437 228.1 437.9 229.7 438.9 230.7C439.9 231.7 440.8 233.2 441.8 233.3C442.8 233.5 443.8 233.6 444.7 233.6C445.7 233.6 446.7 232.9 447.6 232.9C448.6 232.9 449.6 233.7 450.5 234.4C451.5 235.1 452.5 237.1 453.5 238C454 238.5 454.5 238.9 455 239.3C456 240 456.9 240.6 457.9 241C458.9 241.4 459.8 241.9 460.8 241.9C461.8 241.9 462.8 241.5 463.7 241.5C464.7 241.5 465.7 242.3 466.6 242.9C467.6 243.5 468.6 244.5 469.5 245.1C470.5 245.7 471.5 246.4 472.5 246.5C473.4 246.7 474.4 246.8 475.4 246.8C476.3 246.8 477.3 246.5 478.3 246.5C479.2 246.5 480.2 246.9 481.2 247.3C482.2 247.6 483.1 248.3 484.1 248.7C485.1 249.1 486 249.7 487 249.7C488 249.7 488.9 249.7 489.9 249.7C490.9 249.7 491.8 249.5 492.8 249.5C493.8 249.5 494.8 249.9 495.7 250.2C496.7 250.5 497.7 250.9 498.6 251.2C500.1 251.6 501.5 251.9 503 252.1C504.5 252.2 505.9 252.3 507.4 252.4C509.3 252.5 511.2 252.5 513.2 252.7C515.1 252.8 517.1 253 519 253.1C521.2 253.2 523.4 253.4 525.5 253.5" stroke="#FA6400"/>
</g>
<g stroke="#000" stroke-width="1.5" fill="none" stroke-linecap="square">
<path d="M73.2 12.9 H534.2 V385.6 H73.2 Z"/>
<path stroke-linecap="butt" d="M73.2 385.6V378.8M165.4 385.6V378.8M257.6 385.6V378.8M349.8 385.6V378.8M442 385.6V378.8M534.2 385.6V378.8M119.3 385.6V381.8M211.5 385.6V381.8M303.7 385.6V381.8M395.9 385.6V381.8M488.1 385.6V381.8M73.2 360.6H80M73.2 310.9H80M73.2 261.3H80M73.2 211.6H80M73.2 162H80M73.2 112.3H80M73.2 62.7H80M73.2 13.1H80M73.2 385.4H77M73.2 335.8H77M73.2 286.1H77M73.2 236.5H77M73.2 186.8H77M73.2 137.2H77M73.2 87.5H77M73.2 37.9H77"/>
</g>
<g font-family="'Liberation Serif', 'Times New Roman', serif" fill="#000" >
<g font-size="18.3" text-anchor="end">
<text x="64.7" y="365.9">−0.05</text>
<text x="64.7" y="316.2">0.00</text>
<text x="64.7" y="266.6">0.05</text>
<text x="64.7" y="216.9">0.10</text>
<text x="64.7" y="167.3">0.15</text>
<text x="64.7" y="117.6">0.20</text>
<text x="64.7" y="68">0.25</text>
<text x="64.7" y="18.4">0.30</text>
</g>
<g font-size="18.8" text-anchor="middle">
<text x="73.2" y="407.8">0</text>
<text x="165.4" y="407.8">10</text>
<text x="257.6" y="407.8">20</text>
<text x="349.8" y="407.8">30</text>
<text x="442" y="407.8">40</text>
<text x="534.2" y="407.8">50</text>
</g>
<text font-size="18.8" text-anchor="middle" x="303.7" y="430.3">Time (μs)</text>
<text font-size="19.0" text-anchor="middle" transform="translate(19.2,199.8) rotate(-90)">Pressure (Mbar)</text>
<g font-size="14.8">
<text x="464.3" y="36.7">Gauge#1</text>
<text x="464.3" y="55.7">Gauge#2</text>
<text x="464.3" y="74.7">Gauge#3</text>
<text x="464.3" y="93.7">Gauge#4</text>
<text x="464.3" y="112.7">Gauge#5</text>
<text x="464.3" y="131.7">Gauge#6</text>
<text x="464.3" y="150.7">Gauge#7</text>
<text x="464.3" y="169.7">Gauge#8</text>
<text x="464.3" y="188.7">Gauge#9</text>
<text x="464.3" y="207.7">Gauge#10</text>
</g>
</g>
<g stroke-width="1.8" fill="none">
<path d="M425.1 31.5H460.7" stroke="#3C3C3C"/>
<path d="M425.1 50.5H460.7" stroke="#FF3030"/>
<path d="M425.1 69.5H460.7" stroke="#005ADC"/>
<path d="M425.1 88.5H460.7" stroke="#00A85F"/>
<path d="M425.1 107.5H460.7" stroke="#BE6EDC"/>
<path d="M425.1 126.5H460.7" stroke="#D79100"/>
<path d="M425.1 145.5H460.7" stroke="#00C3C8"/>
<path d="M425.1 164.5H460.7" stroke="#7D3232"/>
<path d="M425.1 183.5H460.7" stroke="#878700"/>
<path d="M425.1 202.5H460.7" stroke="#FA6400"/>
</g>
</svg>
</body></html>
